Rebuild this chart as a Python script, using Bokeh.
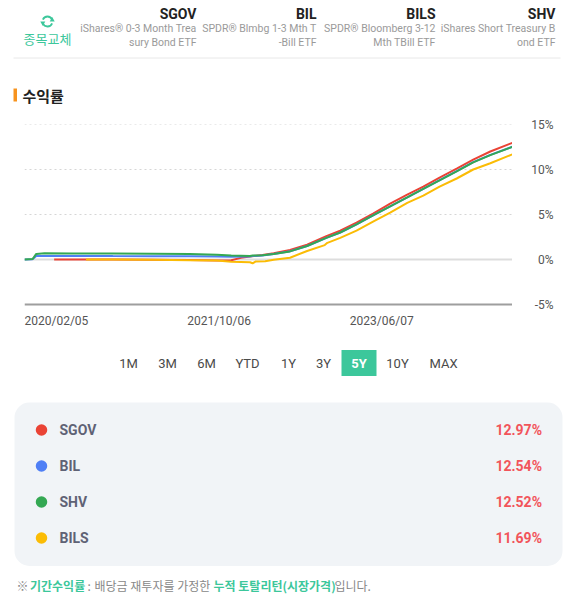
import numpy as np
import pandas as pd
from bokeh.plotting import figure
from bokeh.layouts import column, row
from bokeh.models import Range1d, Span
from bokeh.core.properties import value
from bokeh.embed import file_html
from bokeh.resources import INLINE

# ---------------- data ----------------
tickers = ["SGOV", "BIL", "BILS", "SHV"]
desc_line1 = ["iShares® 0-3 Month Trea", "SPDR® Blmbg 1-3 Mth T", "SPDR® Bloomberg 3-12", "iShares Short Treasury B"]
desc_line2 = ["sury Bond ETF", "-Bill ETF", "Mth TBill ETF", "ond ETF"]

sgov_dates = ["2020-05-26", "2020-09-22", "2021-01-01", "2021-06-01", "2021-10-15", "2022-01-25", "2022-03-20",
              "2022-04-25", "2022-05-29", "2022-07-15", "2022-08-26", "2022-10-26", "2022-12-29", "2023-03-11",
              "2023-05-02", "2023-07-02", "2023-09-02", "2023-11-05", "2024-01-08", "2024-03-08", "2024-05-08",
              "2024-07-11", "2024-09-11", "2024-11-14", "2025-02-05"]
sgov_vals = [0.00, 0.00, 0.00, -0.02, -0.06, -0.10, -0.08, 0.18, 0.33, 0.50, 0.70, 1.05, 1.65, 2.60, 3.20,
             4.10, 5.10, 6.20, 7.20, 8.10, 9.10, 10.10, 11.10, 12.00, 12.97]

bil_dates = ["2020-02-05", "2020-03-06", "2020-03-20", "2020-04-20", "2020-08-01", "2021-01-01", "2021-06-01",
             "2021-10-15", "2022-01-25", "2022-03-20", "2022-05-29", "2022-06-08", "2022-07-15", "2022-08-26",
             "2022-10-26", "2022-12-29", "2023-03-11", "2023-05-02", "2023-07-02", "2023-09-02", "2023-11-05",
             "2024-01-08", "2024-03-08", "2024-05-08", "2024-07-11", "2024-09-11", "2024-11-14", "2025-02-05"]
bil_vals = [0.00, 0.02, 0.38, 0.40, 0.40, 0.38, 0.37, 0.35, 0.32, 0.30, 0.33, 0.38, 0.45, 0.60, 0.92, 1.50,
            2.40, 3.00, 3.90, 4.90, 5.90, 6.90, 7.86, 8.82, 9.82, 10.82, 11.62, 12.54]

bils_dates = ["2020-09-22", "2021-01-01", "2021-06-01", "2021-10-15", "2022-01-25", "2022-03-20", "2022-05-29",
              "2022-06-08", "2022-06-20", "2022-07-25", "2022-08-26", "2022-10-26", "2022-12-29", "2023-03-05",
              "2023-03-15", "2023-05-02", "2023-07-02", "2023-09-02", "2023-11-05", "2024-01-08", "2024-03-08",
              "2024-05-08", "2024-07-11", "2024-09-11", "2024-11-14", "2025-02-05"]
bils_vals = [0.00, 0.00, -0.02, -0.08, -0.12, -0.25, -0.30, -0.42, -0.22, -0.20, -0.02, 0.20, 0.95, 1.60, 1.85,
             2.40, 3.20, 4.20, 5.20, 6.30, 7.10, 8.10, 9.00, 10.00, 10.70, 11.69]

shv_dates = ["2020-02-05", "2020-03-06", "2020-03-20", "2020-04-20", "2020-08-01", "2021-01-01", "2021-06-01",
             "2021-10-15", "2022-01-25", "2022-03-20", "2022-05-29", "2022-06-08", "2022-07-15", "2022-08-26",
             "2022-10-26", "2022-12-29", "2023-03-11", "2023-05-02", "2023-07-02", "2023-09-02", "2023-11-05",
             "2024-01-08", "2024-03-08", "2024-05-08", "2024-07-11", "2024-09-11", "2024-11-14", "2025-02-05"]
shv_vals = [0.00, 0.05, 0.62, 0.70, 0.68, 0.66, 0.63, 0.60, 0.52, 0.45, 0.40, 0.45, 0.47, 0.60, 0.90, 1.50,
            2.40, 3.00, 3.90, 4.90, 5.90, 6.90, 7.85, 8.80, 9.80, 10.80, 11.60, 12.52]

range_start = "2020-02-05"
range_end = "2025-02-05"
tick_dates = ["2020-02-05", "2021-10-06", "2023-06-07"]
y_ticks = [15, 10, 5, 0, -5]
y_min, y_max = -5, 15

periods = ["1M", "3M", "6M", "YTD", "1Y", "3Y", "5Y", "10Y", "MAX"]
active_period = "5Y"

legend_names = ["SGOV", "BIL", "SHV", "BILS"]
legend_values = [12.97, 12.54, 12.52, 11.69]

colors = {"SGOV": "#EA4335", "BIL": "#4F7FF5", "BILS": "#FBBC05", "SHV": "#34A853"}

footnote_parts = ["※", "기간수익률", ":", "배당금 재투자를 가정한", "누적 토탈리턴(시장가격)", "입니다."]
footnote_green = [False, True, False, False, True, False]

# ---------------- styles / geometry ----------------
GREEN = "#3CC79B"
KR = value("Noto Sans CJK KR")
RB = value("Roboto")
PAGE_W = 566
PX_PER_UNIT = 9.0          # vertical pixels per 1 %
FRAME_L = 24               # chart frame left
FRAME_W = 488              # chart frame width


def blank(fig):
    fig.grid.visible = False
    fig.outline_line_color = None
    fig.background_fill_color = "white"
    fig.border_fill_color = "white"


def nob(**kw):
    d = dict(min_border_left=0, min_border_right=0, min_border_top=0, min_border_bottom=0,
             output_backend="svg", toolbar_location=None)
    d.update(kw)
    return d


# ---------------- header ----------------
hdr = figure(width=PAGE_W, height=113, x_range=Range1d(0, PAGE_W), y_range=Range1d(113, 0),
             x_axis_location=None, y_axis_location=None, **nob())
blank(hdr)

col_right = [196, 316, 435, 555]
hdr.text(x=col_right, y=[13.5] * 4, text=tickers, text_align="right", text_baseline="middle",
         text_font=RB, text_font_style="bold", text_font_size="14px", text_color="#222222")
hdr.text(x=col_right, y=[28] * 4, text=desc_line1, text_align="right", text_baseline="middle",
         text_font=RB, text_font_size="10.5px", text_color="#9a9a9a")
hdr.text(x=col_right, y=[42] * 4, text=desc_line2, text_align="right", text_baseline="middle",
         text_font=RB, text_font_size="10.5px", text_color="#9a9a9a")

hdr.arc(x=[47, 47], y=[21, 21], radius=5, start_angle=[0.4, 3.55], end_angle=[2.75, 5.9],
        line_color=GREEN, line_width=1.8)
hdr.scatter(x=[42.3, 51.7], y=[22.5, 19.5], marker="triangle", size=5, angle=[np.pi, 0],
            fill_color=GREEN, line_color=None)
hdr.text(x=[47], y=[37.5], text=["종목교체"], text_align="center", text_baseline="middle",
         text_font=KR, text_font_size="13px", text_color=GREEN)

hdr.segment(x0=[13], y0=[57.5], x1=[560], y1=[57.5], line_color="#e8e8e8", line_width=1)

hdr.quad(left=[13], right=[16.5], top=[88], bottom=[101], fill_color="#F7931E", line_color=None)
hdr.text(x=[22], y=[94.5], text=["수익률"], text_align="left", text_baseline="middle",
         text_font=KR, text_font_style="bold", text_font_size="15px", text_color="#222222")

# ---------------- chart ----------------
pad_bottom_px = 2
ch = figure(width=FRAME_L + FRAME_W, height=11 + int((y_max - y_min) * PX_PER_UNIT) + pad_bottom_px,
            x_axis_type="datetime",
            x_range=Range1d(pd.Timestamp(range_start), pd.Timestamp(range_end)),
            y_range=Range1d(y_min - pad_bottom_px / PX_PER_UNIT, y_max),
            x_axis_location=None, y_axis_location=None,
            **nob(min_border_left=FRAME_L, min_border_top=11))
blank(ch)

for v in y_ticks:
    if v == 0:
        ch.add_layout(Span(location=v, dimension="width", line_color="#dddddd", line_width=2,
                           level="underlay"))
    elif v == y_min:
        ch.add_layout(Span(location=v, dimension="width", line_color="#9e9e9e", line_width=2,
                           level="underlay"))
    else:
        ch.add_layout(Span(location=v, dimension="width", line_color="#d6d6d6", line_width=1,
                           line_dash="2 3", level="underlay"))

series = [("SGOV", sgov_dates, sgov_vals), ("BIL", bil_dates, bil_vals),
          ("BILS", bils_dates, bils_vals), ("SHV", shv_dates, shv_vals)]
for name, d, v in series:
    ch.line(x=pd.to_datetime(d), y=v, line_color=colors[name], line_width=2)

# date labels (left-aligned at their dates, sharing the chart's x scale)
xl_h = 27
xl = figure(width=FRAME_L + FRAME_W, height=xl_h, x_axis_type="datetime", x_range=ch.x_range,
            y_range=Range1d(xl_h, 0), x_axis_location=None, y_axis_location=None,
            **nob(min_border_left=FRAME_L))
blank(xl)
xl.text(x=pd.to_datetime(tick_dates), y=[14] * len(tick_dates),
        text=[pd.Timestamp(d).strftime("%Y/%m/%d") for d in tick_dates],
        text_align="left", text_baseline="middle", text_font=RB, text_font_size="12px",
        text_color="#555555")

# y labels on the right, same vertical scale
yl_h = ch.height + xl_h
yl_top_pad = 2
yl_top = y_max + (11 - yl_top_pad) / PX_PER_UNIT
yl = figure(width=PAGE_W - FRAME_L - FRAME_W, height=yl_h, x_range=Range1d(0, PAGE_W - FRAME_L - FRAME_W),
            y_range=Range1d(yl_top - (yl_h - yl_top_pad) / PX_PER_UNIT, yl_top),
            x_axis_location=None, y_axis_location=None, **nob(min_border_top=yl_top_pad))
blank(yl)
yl.text(x=[41] * len(y_ticks), y=y_ticks, text=[f"{v}%" for v in y_ticks], text_align="right",
        text_baseline="middle", text_font=RB, text_font_size="12px", text_color="#555555")

# ---------------- bottom ----------------
top_b = 113 + yl_h
bot_h = 606 - top_b
bot = figure(width=PAGE_W, height=bot_h, x_range=Range1d(0, PAGE_W), y_range=Range1d(606, top_b),
             x_axis_location=None, y_axis_location=None, **nob())
blank(bot)

btn_x = [128, 167, 206, 247, 288, 323, 358.5, 397, 443]
ai = periods.index(active_period)
bot.quad(left=[btn_x[ai] - 17.5], right=[btn_x[ai] + 17.5], top=[349.5], bottom=[375.5],
         fill_color=GREEN, line_color=None)
bot.text(x=btn_x, y=[362.5] * len(periods), text=periods, text_align="center", text_baseline="middle",
         text_font=RB, text_font_size="13px",
         text_color=["#ffffff" if p == active_period else "#4a4a4a" for p in periods],
         text_font_style=["bold" if p == active_period else "normal" for p in periods])

bot.quad(left=[14], right=[562], top=[402], bottom=[565.5], fill_color="#F1F4F7", line_color=None,
         border_radius=15)

row_y = [429.5, 465.5, 501.5, 537.5]
bot.scatter(x=[41] * 4, y=row_y, size=11.5, fill_color=[colors[n] for n in legend_names], line_color=None)
bot.text(x=[59] * 4, y=row_y, text=legend_names, text_align="left", text_baseline="middle",
         text_font=RB, text_font_style="bold", text_font_size="14px", text_color="#5f6275")
bot.text(x=[541.5] * 4, y=row_y, text=[f"{v:.2f}%" for v in legend_values], text_align="right",
         text_baseline="middle", text_font=RB, text_font_style="bold", text_font_size="14px",
         text_color="#F2545B")

foot_x = [16, 29.5, 87, 94, 213, 334]
bot.text(x=foot_x, y=[584.5] * len(footnote_parts), text=footnote_parts, text_align="left",
         text_baseline="middle", text_font=KR, text_font_size="12px",
         text_color=[GREEN if g else "#888888" for g in footnote_green],
         text_font_style=["bold" if g else "normal" for g in footnote_green])

layout = column(hdr, row(column(ch, xl), yl), bot)
open("out.html", "w").write(file_html(layout, INLINE, "chart"))
